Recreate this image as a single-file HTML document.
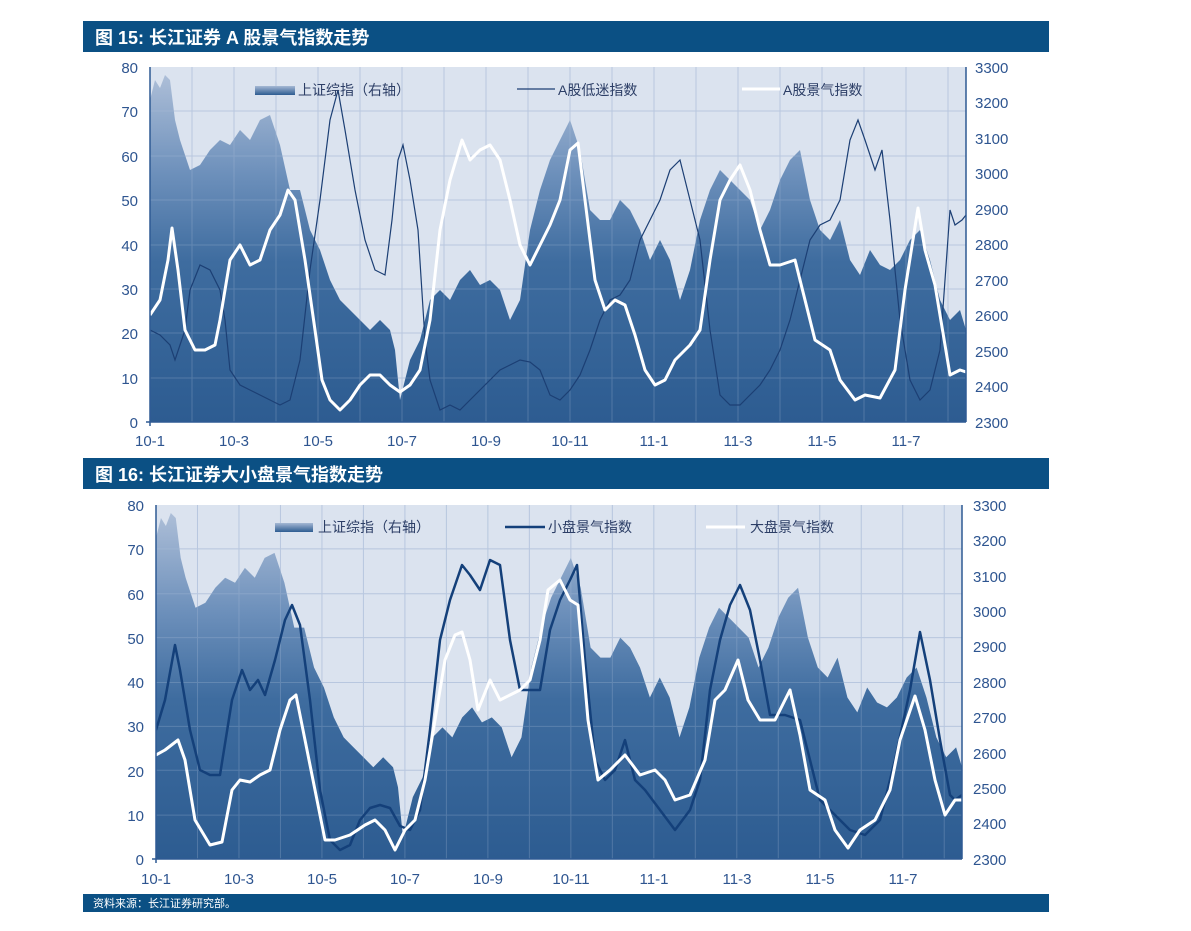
<!DOCTYPE html>
<html><head><meta charset="utf-8"><style>
body{margin:0;background:#fff;width:1191px;height:931px;overflow:hidden}
svg{display:block}
text{font-family:"Liberation Sans","Noto Sans CJK SC",sans-serif}
</style></head><body>
<svg width="1191" height="931" viewBox="0 0 1191 931" xmlns="http://www.w3.org/2000/svg">
<defs>
<linearGradient id="ag" x1="0" y1="67" x2="0" y2="422" gradientUnits="userSpaceOnUse">
<stop offset="0" stop-color="#b2c2da"/><stop offset="0.3" stop-color="#6d90bb"/><stop offset="0.55" stop-color="#3e6c9f"/><stop offset="1" stop-color="#2d5c91"/></linearGradient>
<linearGradient id="lg" x1="0" y1="0" x2="0" y2="1"><stop offset="0" stop-color="#a5b8d4"/><stop offset="1" stop-color="#2d5c91"/></linearGradient>
<clipPath id="c1"><rect x="150" y="67" width="816" height="355"/></clipPath>
<g id="area"><polygon fill="url(#ag)" points="150,422 150,100 155,80 160,88 165,75 170,80 175,120 180,140 190,170 200,165 210,150 220,140 230,145 240,130 250,140 260,120 270,115 280,145 290,190 300,190 310,230 320,250 330,280 340,300 350,310 360,320 370,330 380,320 390,330 395,350 400,400 410,360 420,340 430,300 440,290 450,300 460,280 470,270 480,285 490,280 500,290 510,320 520,300 530,230 540,190 550,160 560,140 570,120 580,150 590,210 600,220 610,220 620,200 630,210 640,230 650,260 660,240 670,260 680,300 690,270 700,220 710,190 720,170 730,180 740,190 750,200 760,230 770,210 780,180 790,160 800,150 810,200 820,230 830,240 840,220 850,260 860,275 870,250 880,265 890,270 900,260 910,240 920,230 930,260 940,300 950,320 960,310 966,330 966,422"/></g>
<g id="grid" stroke="#b8c7df" stroke-width="1">
<line x1="192" y1="67" x2="192" y2="422"/><line x1="234" y1="67" x2="234" y2="422"/><line x1="276" y1="67" x2="276" y2="422"/><line x1="318" y1="67" x2="318" y2="422"/><line x1="360" y1="67" x2="360" y2="422"/><line x1="402" y1="67" x2="402" y2="422"/><line x1="444" y1="67" x2="444" y2="422"/><line x1="486" y1="67" x2="486" y2="422"/><line x1="528" y1="67" x2="528" y2="422"/><line x1="570" y1="67" x2="570" y2="422"/><line x1="612" y1="67" x2="612" y2="422"/><line x1="654" y1="67" x2="654" y2="422"/><line x1="696" y1="67" x2="696" y2="422"/><line x1="738" y1="67" x2="738" y2="422"/><line x1="780" y1="67" x2="780" y2="422"/><line x1="822" y1="67" x2="822" y2="422"/><line x1="864" y1="67" x2="864" y2="422"/><line x1="906" y1="67" x2="906" y2="422"/><line x1="948" y1="67" x2="948" y2="422"/>
<line x1="150" y1="111" x2="966" y2="111"/><line x1="150" y1="156" x2="966" y2="156"/><line x1="150" y1="200" x2="966" y2="200"/><line x1="150" y1="245" x2="966" y2="245"/><line x1="150" y1="289" x2="966" y2="289"/><line x1="150" y1="333" x2="966" y2="333"/><line x1="150" y1="378" x2="966" y2="378"/></g>
</defs>

<!-- Header 1 -->
<rect x="83" y="21" width="966" height="31" fill="#0b5084"/>
<text x="95" y="44" fill="#fff" font-size="18" font-weight="bold">图 15:  长江证券 A 股景气指数走势</text>

<!-- Chart 1 -->
<rect x="150" y="67" width="816" height="355" fill="#dbe3ef"/>
<use href="#grid"/>
<g clip-path="url(#c1)"><use href="#area"/>
<use href="#grid" opacity="0.25"/>
<polyline fill="none" stroke="#1c3f74" stroke-width="1.2" points="150,330 160,335 170,345 175,360 185,330 190,290 200,265 210,270 220,290 225,320 230,370 240,385 260,395 280,405 290,400 300,360 310,270 320,200 330,120 338,90 345,130 355,190 365,240 375,270 385,275 392,220 398,160 403,145 410,180 418,230 425,340 430,380 440,410 450,405 460,410 470,400 480,390 490,380 500,370 510,365 520,360 530,362 540,370 550,395 560,400 570,390 580,375 590,350 600,320 610,300 620,295 630,280 640,240 650,220 660,200 670,170 680,160 690,200 700,240 710,330 720,395 730,405 740,405 750,395 760,385 770,370 780,350 790,320 800,280 810,240 820,225 830,220 840,200 850,140 858,120 865,140 875,170 882,150 890,220 900,320 910,380 920,400 930,390 940,350 950,210 955,225 962,220 966,215"/>
<polyline fill="none" stroke="#fff" stroke-width="3" stroke-linejoin="round" points="150,315 160,300 168,260 172,228 178,270 185,330 195,350 205,350 215,345 220,320 230,260 240,245 250,265 260,260 270,230 280,215 288,190 295,200 305,260 315,330 322,380 330,400 340,410 350,400 360,385 370,375 380,375 390,385 400,392 410,385 420,370 430,320 440,230 450,180 462,140 470,160 480,150 490,145 500,160 510,200 520,245 530,265 540,245 550,225 560,200 570,150 578,143 585,200 595,280 605,310 615,300 625,305 635,335 645,370 655,385 665,380 675,360 690,345 700,330 710,260 720,200 730,180 740,165 750,190 760,230 770,265 780,265 795,260 805,300 815,340 830,350 840,380 855,400 865,395 880,398 895,370 905,290 918,208 925,250 935,285 945,345 950,375 960,370 966,372"/>
</g>
<g stroke="#2e5a94" stroke-width="1.5"><line x1="150" y1="67" x2="150" y2="426"/><line x1="146" y1="422" x2="966" y2="422"/><line x1="966" y1="67" x2="966" y2="422"/></g>
<!-- legend 1 -->
<rect x="255" y="86" width="40" height="9" fill="url(#lg)"/>
<text x="298" y="95" font-size="14" fill="#2c3e66">上证综指（右轴）</text>
<line x1="517" y1="89" x2="555" y2="89" stroke="#1c3f74" stroke-width="1.2"/>
<text x="558" y="95" font-size="14" fill="#2c3e66">A股低迷指数</text>
<line x1="742" y1="89" x2="780" y2="89" stroke="#fff" stroke-width="3"/>
<text x="783" y="95" font-size="14" fill="#2c3e66">A股景气指数</text>
<g font-size="15" fill="#2e5590" text-anchor="end">
<text x="138" y="73">80</text><text x="138" y="117">70</text><text x="138" y="162">60</text><text x="138" y="206">50</text><text x="138" y="251">40</text><text x="138" y="295">30</text><text x="138" y="339">20</text><text x="138" y="384">10</text><text x="138" y="428">0</text></g>
<g font-size="15" fill="#2e5590">
<text x="975" y="73">3300</text><text x="975" y="108">3200</text><text x="975" y="144">3100</text><text x="975" y="179">3000</text><text x="975" y="215">2900</text><text x="975" y="250">2800</text><text x="975" y="286">2700</text><text x="975" y="321">2600</text><text x="975" y="357">2500</text><text x="975" y="392">2400</text><text x="975" y="428">2300</text></g>
<g font-size="15" fill="#2e5590" text-anchor="middle">
<text x="150" y="446">10-1</text><text x="234" y="446">10-3</text><text x="318" y="446">10-5</text><text x="402" y="446">10-7</text><text x="486" y="446">10-9</text><text x="570" y="446">10-11</text><text x="654" y="446">11-1</text><text x="738" y="446">11-3</text><text x="822" y="446">11-5</text><text x="906" y="446">11-7</text></g>

<!-- Header 2 -->
<rect x="83" y="458" width="966" height="31" fill="#0b5084"/>
<text x="95" y="481" fill="#fff" font-size="18" font-weight="bold">图 16:  长江证券大小盘景气指数走势</text>

<!-- Chart 2 -->
<rect x="156" y="505" width="806" height="354" fill="#dbe3ef"/>
<g transform="translate(156,505) scale(0.98775,0.99718) translate(-150,-67)">
<use href="#grid"/>
<g clip-path="url(#c1)"><use href="#area"/><use href="#grid" opacity="0.25"/></g>
</g>
<svg x="156" y="505" width="806" height="354" viewBox="156 505 806 354" overflow="hidden">
<polyline fill="none" stroke="#14407a" stroke-width="2.5" stroke-linejoin="round" points="156,730 165,700 175,645 180,670 190,730 200,770 210,775 220,775 232,700 242,670 250,690 258,680 265,695 275,660 285,620 292,605 300,625 310,700 320,790 330,840 340,850 350,845 360,820 370,808 380,805 390,808 400,826 410,830 420,810 430,730 440,640 450,600 462,565 470,575 480,590 490,560 500,565 510,640 520,690 530,690 540,690 550,630 560,600 570,580 577,565 585,660 595,760 605,780 615,770 625,740 635,780 645,790 660,810 675,830 690,810 700,780 710,690 720,640 730,605 740,585 750,610 760,660 770,715 785,715 800,720 810,760 820,800 835,815 850,830 865,835 880,820 895,760 910,690 920,632 930,680 940,740 950,795 955,800 962,795"/>
<polyline fill="none" stroke="#fff" stroke-width="3" stroke-linejoin="round" points="156,755 165,750 178,740 185,760 195,820 210,845 222,842 232,790 240,780 250,782 260,775 270,770 280,730 290,700 296,695 305,740 315,790 325,840 335,840 350,835 365,825 375,820 385,830 395,850 405,830 415,820 425,780 435,720 445,660 455,635 462,632 470,660 478,710 490,680 500,700 510,695 520,690 530,680 540,640 548,590 560,580 570,600 578,605 588,720 598,780 610,770 625,755 640,775 655,770 665,780 675,800 690,795 705,760 715,700 725,690 738,660 748,700 760,720 775,720 790,690 800,735 810,790 825,800 835,830 848,848 860,830 875,820 890,790 900,740 915,696 925,730 935,780 945,815 955,800 962,800"/>
</svg>
<g stroke="#2e5a94" stroke-width="1.5"><line x1="156" y1="505" x2="156" y2="863"/><line x1="152" y1="859" x2="962" y2="859"/><line x1="962" y1="505" x2="962" y2="859"/></g>
<rect x="275" y="523" width="38" height="9" fill="url(#lg)"/>
<text x="318" y="532" font-size="14" fill="#2c3e66">上证综指（右轴）</text>
<line x1="505" y1="527" x2="545" y2="527" stroke="#14407a" stroke-width="2.5"/>
<text x="548" y="532" font-size="14" fill="#2c3e66">小盘景气指数</text>
<line x1="706" y1="527" x2="745" y2="527" stroke="#fff" stroke-width="3"/>
<text x="750" y="532" font-size="14" fill="#2c3e66">大盘景气指数</text>
<g font-size="15" fill="#2e5590" text-anchor="end">
<text x="144" y="511">80</text><text x="144" y="555">70</text><text x="144" y="600">60</text><text x="144" y="644">50</text><text x="144" y="688">40</text><text x="144" y="732">30</text><text x="144" y="777">20</text><text x="144" y="821">10</text><text x="144" y="865">0</text></g>
<g font-size="15" fill="#2e5590">
<text x="973" y="511">3300</text><text x="973" y="546">3200</text><text x="973" y="582">3100</text><text x="973" y="617">3000</text><text x="973" y="652">2900</text><text x="973" y="688">2800</text><text x="973" y="723">2700</text><text x="973" y="759">2600</text><text x="973" y="794">2500</text><text x="973" y="829">2400</text><text x="973" y="865">2300</text></g>
<g font-size="15" fill="#2e5590" text-anchor="middle">
<text x="156" y="884">10-1</text><text x="239" y="884">10-3</text><text x="322" y="884">10-5</text><text x="405" y="884">10-7</text><text x="488" y="884">10-9</text><text x="571" y="884">10-11</text><text x="654" y="884">11-1</text><text x="737" y="884">11-3</text><text x="820" y="884">11-5</text><text x="903" y="884">11-7</text></g>

<!-- footer -->
<rect x="83" y="894" width="966" height="18" fill="#0b5084"/>
<text x="93" y="907" font-size="11" fill="#fff">资料来源：长江证券研究部。</text>
</svg>
</body></html>
